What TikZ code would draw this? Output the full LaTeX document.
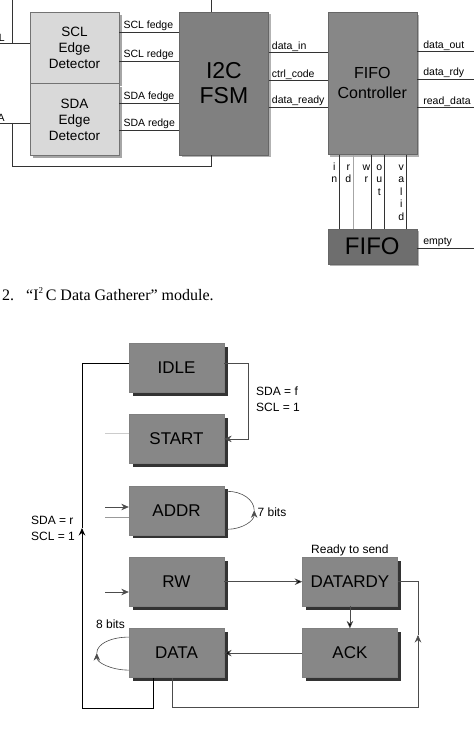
\documentclass[tikz,border=0pt]{standalone}
\usepackage{fontspec}
\setmainfont{Liberation Serif}
\setsansfont{Liberation Sans}
\usetikzlibrary{arrows.meta, positioning, shadows}

\begin{document}
\begin{tikzpicture}[
    x = 1pt, y = -1pt, % pixel grid of the page
    > = {Stealth[length=7.5pt, width=6.5pt, inset=2.5pt]}, % arrow head style
    font = \sffamily,
    wire/.style = {draw=black!80, line width=0.7pt},
    link/.style = {draw=black!70, line width=0.6pt},
    ret/.style = {draw=black, line width=1pt},
    sig/.style = {font=\sffamily\fontsize{10.5}{12.5}\selectfont, inner sep=1pt},
    cond/.style = {font=\sffamily\fontsize{12}{16}\selectfont, inner sep=1pt, align=left},
    detector/.style = {draw=black!55, fill=black!15, minimum width=89pt, minimum height=71.5pt,
      inner sep=0pt, align=center, font=\sffamily\fontsize{13.5}{16}\selectfont,
      drop shadow={shadow xshift=3pt, shadow yshift=-3pt, fill=black!35, opacity=1}},
    block/.style = {draw=black!60, fill=black!47, minimum width=89pt, inner sep=0pt, align=center,
      drop shadow={shadow xshift=2.5pt, shadow yshift=-2.5pt, fill=black!30, opacity=1}},
    state/.style = {draw=black!50, fill=black!47, minimum width=95pt, minimum height=49pt,
      inner sep=0pt, font=\sffamily\fontsize{17}{20}\selectfont,
      drop shadow={shadow xshift=3.5pt, shadow yshift=-3.5pt, fill=black!80, opacity=1}}
  ]
  \useasboundingbox (0,0) rectangle (474,733);

  % data gatherer
  \node[detector] (sclDet) at (74.5,47.5) {SCL\\Edge\\Detector};
  \node[detector, below = 0pt of sclDet] (sdaDet) {SDA\\Edge\\Detector};
  \node[block, right = 60pt of sclDet.south east, minimum height=143pt, fill=black!50,
    font=\sffamily\fontsize{23}{25}\selectfont] (fsm) {I2C\\FSM};
  \node[block, right = 59pt of fsm, minimum height=142pt,
    font=\sffamily\fontsize{16}{20}\selectfont] (fifoCtl) {FIFO\\Controller};
  \node[block, below = 74pt of fifoCtl, minimum height=35pt, fill=black!57,
    font=\sffamily\fontsize{24}{26}\selectfont] (fifo) {FIFO};

  \coordinate (sclIn) at (0,43);
  \coordinate (sclTop) at (12,0);
  \coordinate (sdaIn) at (0,123);
  \coordinate (sdaLoop) at (12,166);
  \coordinate (rEdge) at (474,0);

  \draw[wire] (sclIn) node[sig, above left, xshift=6pt] (sclName) {SCL} -- (sclIn -| sclDet.west);
  \draw[wire] (sclTop) -- (sclTop |- sclIn);
  \draw[wire] (sdaIn) node[sig, above left, xshift=6pt] (sdaName) {SDA} -- (sdaIn -| sdaDet.west);
  \draw[wire] (sdaIn -| sdaLoop) -- (sdaLoop) -| ([xshift=-12.5pt]fsm.south);
  \draw[wire] ([xshift=-12.5pt]fsm.north) -- ([xshift=-12.5pt]fsm.north |- sclTop);

  \foreach \blk/\dy/\txt [count=\i] in {sclDet/15.5/SCL fedge, sclDet/-13.5/SCL redge,
      sdaDet/16/SDA fedge, sdaDet/-11/SDA redge}
    \draw[wire] ([yshift=\dy pt]\blk.east) node[sig, above right, xshift=3pt] (edgeSig\i) {\txt}
      -- ([yshift=\dy pt]\blk.east -| fsm.west);

  \foreach \dy/\txt [count=\i] in {31/data\_in, 3/ctrl\_code, -24/data\_ready}
    \draw[wire] ([yshift=\dy pt]fsm.east) node[sig, above right, xshift=2pt] (fsmSig\i) {\txt}
      -- ([yshift=\dy pt]fsm.east -| fifoCtl.west);

  \foreach \dy/\txt [count=\i] in {32/data\_out, 4/data\_rdy, -24/read\_data}
    \draw[wire] ([yshift=\dy pt]fifoCtl.east) node[sig, above right, xshift=5pt] (ctlSig\i) {\txt}
      -- ([yshift=\dy pt]fifoCtl.east -| rEdge);

  \draw[wire] ([yshift=-1.5pt]fifo.east) node[sig, above right, xshift=5pt] (emptySig) {empty}
    -- ([yshift=-1.5pt]fifo.east -| rEdge);

  \foreach \dx/\txt/\col [count=\i] in {-32.5/{i\\n}/black!80, -18.5/{r\\d}/black!35,
      -0.5/{w\\r}/black!80, 12.5/{o\\u\\t}/black!80, 34.5/{v\\a\\l\\i\\d}/black!80} {
    \draw[wire, draw=\col] ([xshift=\dx pt]fifoCtl.south) -- ([xshift=\dx pt]fifoCtl.south |- fifo.north);
    \node[sig, anchor=north, align=center, font=\sffamily\fontsize{10.5}{12.5}\selectfont]
      (busSig\i) at ([xshift=\dx pt - 5.5pt, yshift=-5.5pt]fifoCtl.south) {\strut\txt};
  }

  \node[anchor=base west, inner sep=0pt, font=\rmfamily\fontsize{16}{18}\selectfont] (caption)
    at (2,300.5) {\makebox[24pt][l]{2.}“I\raisebox{0.45em}{\fontsize{9}{9}\selectfont 2}\,C Data Gatherer” module.};

  % state machine
  \node[state] (idle) at (176.5,367.5) {IDLE};
  \node[state, below = 22pt of idle] (start) {START};
  \node[state, below = 22pt of start] (addr) {ADDR};
  \node[state, below = 22pt of addr] (rw) {RW};
  \node[state, below = 22pt of rw] (data) {DATA};
  \node[state, right = 78pt of rw] (datardy) {DATARDY};
  \node[state, right = 78pt of data] (ack) {ACK};

  \draw[link, ->] ([yshift=4.5pt]idle.east) -| ([xshift=24pt]start.east) -- (start.east);
  \node[cond, anchor=west] (idleCond) at (255,399) {SDA = f\\SCL = 1};

  \coordinate (startIn) at (105,433);
  \coordinate (addrIn) at (105,507);
  \coordinate (addrIn2) at (105,517);
  \coordinate (rwIn) at (105,592);
  \draw[draw=black!20, line width=0.6pt] (startIn) -- (startIn -| start.west);
  \draw[link, ->] (addrIn) -- (addrIn -| addr.west);
  \draw[draw=black!40, line width=0.6pt] (addrIn2) -- (addrIn2 -| addr.west);
  \draw[link, ->] (rwIn) -- (rwIn -| rw.west);

  \path[link, ->] (rw) edge (datardy);
  \path[link, ->] (datardy) edge (ack);
  \path[link, ->] (ack) edge (data);
  \node[cond, above = 0pt of datardy] (sendCond) {Ready to send};

  % self loops
  \coordinate (addrLoopB) at ([xshift=3pt, yshift=-19pt]addr.east);
  \coordinate (addrLoop) at ([xshift=30pt]addr.east);
  \coordinate (addrLoopT) at ([xshift=3pt, yshift=19pt]addr.east);
  \draw[link, ->] (addrLoopB) .. controls +(15,0) and +(0,10.5) .. (addrLoop);
  \draw[link] (addrLoop) .. controls +(0,-10.5) and +(15,0) .. (addrLoopT);
  \node[cond] (addrBits) at (272,512) {7 bits};

  \coordinate (dataLoopB) at ([yshift=-17pt]data.west);
  \coordinate (dataLoop) at ([xshift=-32pt]data.west);
  \coordinate (dataLoopT) at ([yshift=16pt]data.west);
  \draw[link, ->] (dataLoopB) .. controls +(-17.6,0) and +(0,9.4) .. (dataLoop);
  \draw[link] (dataLoop) .. controls +(0,-9.4) and +(-17.6,0) .. (dataLoopT);
  \node[cond] (dataBits) at (110.5,624.5) {8 bits};

  % return paths
  \coordinate (retCorner) at (82,708);
  \coordinate (retMid) at (82,528);
  \draw[ret, ->] ([xshift=-23.5pt]data.south) |- (retCorner) -- (retMid);
  \draw[ret] (retMid) |- ([yshift=4.5pt]idle.west);
  \node[cond, anchor=east] (retCond) at (76,528) {SDA = r\\SCL = 1};

  \coordinate (loopCorner) at (418,707);
  \coordinate (loopMid) at (418,635);
  \draw[link, ->] ([xshift=-4.5pt]data.south) |- (loopCorner) -- (loopMid);
  \draw[link] (loopMid) |- (datardy.east);
\end{tikzpicture}
\end{document}
